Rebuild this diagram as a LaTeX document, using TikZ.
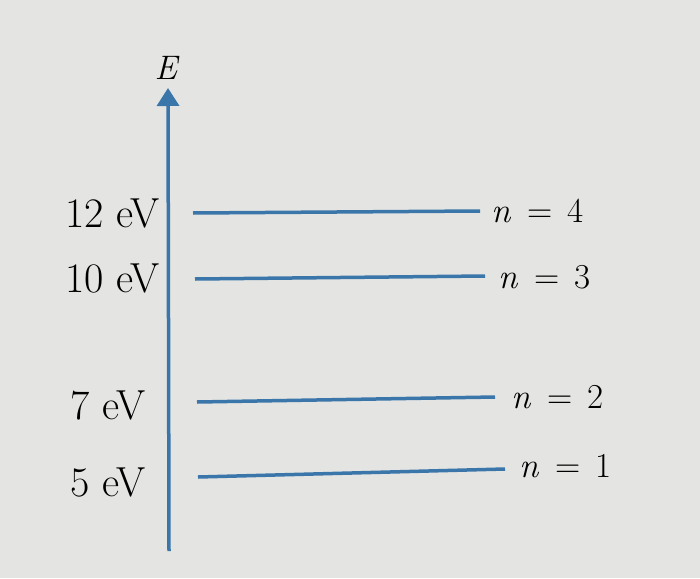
\RequirePackage{fix-cm}
\documentclass[tikz,border=0pt]{standalone}
\usepackage{fontspec}
\usetikzlibrary{arrows.meta}
\definecolor{bg}{RGB}{228,228,226}
\definecolor{lvl}{RGB}{58,118,170}
\newcommand{\nlev}[1]{\textit{n}\hspace{0.45em}=\hspace{0.45em}#1}
\tikzset{
  level/.style={draw=lvl, line width=3.5pt},
  elabel/.style={anchor=east, font=\fontsize{42}{46}\selectfont, inner sep=0pt},
  nlabel/.style={anchor=west, font=\fontsize{35}{40}\selectfont, inner sep=0pt},
}
\begin{document}
\begin{tikzpicture}[x=1pt,y=-1pt]
\fill[bg] (0,0) rectangle (700,578);
\useasboundingbox (0,0) rectangle (700,578);
% axis
\coordinate (axb) at (169,551);
\coordinate (axt) at (168,88);
\draw[draw=lvl, line width=3.5pt, -{Triangle[width=22pt,length=18pt]}] (axb) -- (axt);
\node[font=\fontsize{34}{38}\selectfont\itshape, inner sep=0pt] (E) at (166,68) {E};
% levels
\coordinate (l4a) at (193,213); \coordinate (l4b) at (480,211);
\coordinate (l3a) at (195,279); \coordinate (l3b) at (485,276);
\coordinate (l2a) at (197,402); \coordinate (l2b) at (495,397);
\coordinate (l1a) at (198,477); \coordinate (l1b) at (505,469);
\draw[level] (l4a) -- (l4b);
\draw[level] (l3a) -- (l3b);
\draw[level] (l2a) -- (l2b);
\draw[level] (l1a) -- (l1b);
% energy labels
\node[elabel] (e4) at (160,213) {12 eV};
\node[elabel] (e3) at (160,278) {10 eV};
\node[elabel] (e2) at (146,405) {7 eV};
\node[elabel] (e1) at (146,482) {5 eV};
% n labels
\node[nlabel] (n4) at (491,211) {\nlev{4}};
\node[nlabel] (n3) at (498,277) {\nlev{3}};
\node[nlabel] (n2) at (511,397) {\nlev{2}};
\node[nlabel] (n1) at (519,466) {\nlev{1}};
\end{tikzpicture}
\end{document}
